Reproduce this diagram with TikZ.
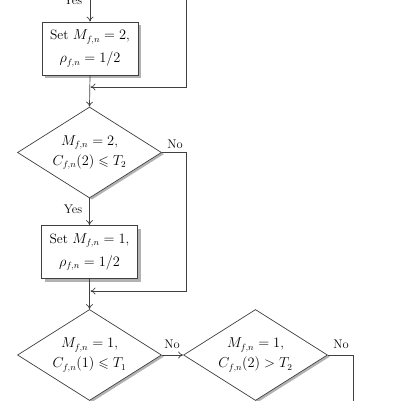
\documentclass[tikz,border=0pt]{standalone}
\usepackage{amssymb}
\usetikzlibrary{shapes.geometric,shadows,arrows.meta}
\begin{document}
\begin{tikzpicture}[x=1pt,y=-1pt,
  line width=0.7pt,
  conn/.style={draw=black!75,-{To[length=5pt,width=7pt]}},
  plainline/.style={draw=black!75},
  shadowed/.style={drop shadow={shadow xshift=3pt,shadow yshift=-3pt,fill=black!30,opacity=1}},
  procbox/.style={draw=black!75,fill=white,minimum width=96pt,minimum height=53pt,inner sep=2pt,align=center,
    font=\fontsize{13.5}{23}\selectfont,shadowed},
  decision/.style={diamond,draw=black!75,fill=white,minimum width=144pt,minimum height=91pt,aspect=1.6,inner sep=0pt,align=center,
    font=\fontsize{13.5}{20}\selectfont,
    drop shadow={shadow xshift=2.5pt,shadow yshift=-1.6pt,fill=black!30,opacity=1}},
  lbl/.style={font=\fontsize{12.5}{14}\selectfont,inner sep=0pt}
]
\useasboundingbox (0,0) rectangle (401,401);
\clip (0,0) rectangle (401,401);

% nodes
\node[procbox] (set2) at (90,48.5) {Set $M_{f,n}=2$,\\ $\rho_{f,n}=1/2$};
\node[decision] (d1) at (89.5,152.5) {$M_{f,n}=2$,\\ $C_{f,n}(2)\leqslant T_2$};
\node[procbox] (set1) at (89.5,252) {Set $M_{f,n}=1$,\\ $\rho_{f,n}=1/2$};
\node[decision] (d2) at (89.5,355) {$M_{f,n}=1$,\\ $C_{f,n}(1)\leqslant T_1$};
\node[decision] (d3) at (255.5,355) {$M_{f,n}=1$,\\ $C_{f,n}(2)>T_2$};

% free ends
\coordinate (topin) at (90,-10);
\coordinate (topright) at (186,-10);
\coordinate (m1) at (90.5,87);
\coordinate (r1) at (186,291);
\coordinate (m2) at (90.5,291);
\coordinate (bot) at (353,410);

% labels
\node[lbl] (yes0) at (73,0.5) {Yes};
\node[lbl] (no1) at (175,144) {No};
\node[lbl] (yes1) at (73,209) {Yes};
\node[lbl] (no2) at (172,344) {No};
\node[lbl] (no3) at (341,344) {No};

% connectors
\draw[conn] (topin) -- (set2.north);
\draw[conn] (topright) |- (m1);
\draw[conn] (set2.south) -- (d1.north);
\draw[conn] (d1.east) -| (r1) -- (m2);
\draw[conn] (d1.south) -- (set1.north);
\draw[conn] (set1.south) -- (d2.north);
\draw[conn] (d2.east) -- (d3.west);
\draw[plainline] (d3.east) -| (bot);
\end{tikzpicture}
\end{document}
